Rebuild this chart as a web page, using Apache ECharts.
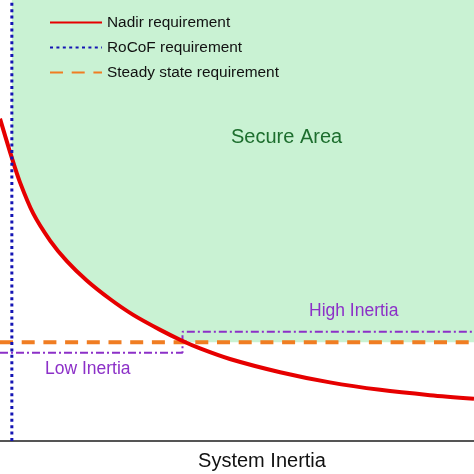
<!DOCTYPE html>
<html lang="en">
<head>
  <meta charset="UTF-8">
  <script src="https://cdn.jsdelivr.net/npm/echarts@6/dist/echarts.min.js"></script>
  <title>Secure Area</title>
  <style>
    html, body { margin: 0; padding: 0; background: #fff; }
  </style>
</head>
<body>
  <div id="chart" style="width: 474px;height:474px;"></div>

  <script>
    // nadir requirement curve (x, y in 0..100 units)
    var nadirX = [0, 2.5, 4.2, 7, 10.6, 14.1, 18.3, 23.2, 28.1, 33.8, 38.3, 42.2, 48.5, 59.1, 69.6, 80.2, 90.7, 100];
    var nadirY = [73.1, 64.2, 58.7, 51.6, 45.4, 40.8, 36.4, 32.2, 28.6, 25.2, 22.8, 21.0, 18.6, 15.6, 13.3, 11.6, 10.4, 9.6];

    // the other requirements
    var rocofX = 2.5;
    var steadyY = 22.4;
    var crossX = 39.2;

    // low / high inertia step line
    var lowInertiaY = 20.0;
    var highInertiaY = 24.8;
    var stepX = 38.5;

    var legendNames = ['Nadir requirement', 'RoCoF requirement', 'Steady state requirement'];

    var chartDom = document.getElementById('chart');
    var myChart = echarts.init(chartDom);

    var font = 'Liberation Sans, Arial, sans-serif';

    function zip(xs, ys) {
      var out = [];
      for (var i = 0; i < xs.length; i++) {
        out.push([xs[i], ys[i]]);
      }
      return out;
    }

    // border of the secure area: nadir curve right of RoCoF line, then the steady state level
    function secureBorder() {
      var out = [];
      for (var i = 0; i < nadirX.length; i++) {
        if (nadirX[i] >= rocofX && nadirX[i] < crossX) {
          out.push([nadirX[i], nadirY[i]]);
        }
      }
      out.push([crossX, steadyY]);
      out.push([100, steadyY]);
      return out;
    }

    var purple = '#8c30c8';

    var option = {
      animation: false,
      grid: { left: 0, right: 0, top: 0, bottom: 33, outerBoundsMode: 'none' },
      legend: {
        data: legendNames,
        orient: 'vertical',
        left: 44,
        top: 10,
        itemWidth: 52,
        itemHeight: 14,
        itemGap: 10,
        itemStyle: { opacity: 0, borderWidth: 0 },
        textStyle: { fontFamily: font, fontSize: 15.4, color: '#111' }
      },
      xAxis: {
        type: 'value',
        min: 0,
        max: 100,
        name: 'System Inertia',
        nameLocation: 'middle',
        nameGap: 10,
        nameTextStyle: { fontFamily: font, fontSize: 20, color: '#111', padding: [0, 0, 0, 50] },
        axisLine: { lineStyle: { color: '#555', width: 2 } },
        axisTick: { show: false },
        axisLabel: { show: false },
        splitLine: { show: false }
      },
      yAxis: {
        type: 'value',
        min: 0,
        max: 100,
        show: false,
        splitLine: { show: false }
      },
      series: [
        {
          name: 'secure',
          type: 'line',
          data: secureBorder(),
          smooth: 0.3,
          symbol: 'none',
          lineStyle: { width: 0, opacity: 0 },
          areaStyle: { origin: 'end', color: 'rgb(201,242,211)', opacity: 1 },
          z: 1
        },
        {
          name: 'inertia',
          type: 'line',
          step: 'end',
          data: [[0, lowInertiaY], [stepX, highInertiaY], [100, highInertiaY]],
          symbol: 'none',
          lineStyle: { color: purple, width: 2, type: [8, 3, 2, 3] },
          z: 2
        },
        {
          name: 'Steady state requirement',
          type: 'line',
          data: [[0, steadyY], [100, steadyY]],
          symbol: 'none',
          itemStyle: { color: '#f07d22' },
          lineStyle: { color: '#f07d22', width: 4, type: [13, 8.7] },
          z: 3
        },
        {
          name: 'Nadir requirement',
          type: 'line',
          data: zip(nadirX, nadirY),
          smooth: 0.3,
          symbol: 'none',
          itemStyle: { color: '#e60000' },
          lineStyle: { color: '#e60000', width: 4 },
          z: 4
        },
        {
          name: 'RoCoF requirement',
          type: 'line',
          data: [[rocofX, 0], [rocofX, 100]],
          symbol: 'none',
          itemStyle: { color: '#1414b4' },
          lineStyle: { color: '#1414b4', width: 3, type: [3, 3.4] },
          z: 5
        }
      ],
      graphic: [
        {
          type: 'text',
          z: 100,
          left: 231,
          top: 127,
          style: { text: 'Secure Area', fill: '#1d6e2e', font: '20px ' + font }
        },
        {
          type: 'text',
          z: 100,
          left: 309,
          top: 302,
          style: { text: 'High Inertia', fill: purple, font: '17.5px ' + font }
        },
        {
          type: 'text',
          z: 100,
          left: 45,
          top: 360,
          style: { text: 'Low Inertia', fill: purple, font: '17.5px ' + font }
        }
      ]
    };

    myChart.setOption(option);
  </script>
</body>
</html>
